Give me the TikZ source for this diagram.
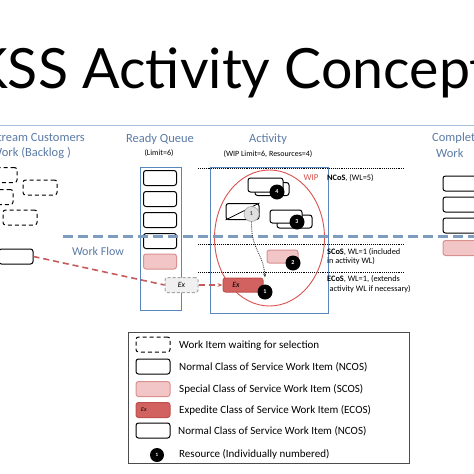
\documentclass[tikz,border=0pt]{standalone}
\usepackage{fontspec}
\setmainfont{Carlito}
\newfontfamily\titlefont{Lato}
\usetikzlibrary{arrows.meta}
\definecolor{hdrblue}{HTML}{5B7BA6}
\definecolor{boxblue}{HTML}{5A86BE}
\definecolor{wfblue}{HTML}{7E9BC0}
\definecolor{topblue}{HTML}{A9C0DC}
\definecolor{pinkfill}{HTML}{F2C6C6}
\definecolor{pinkdraw}{HTML}{D9908F}
\definecolor{redfill}{HTML}{D2625F}
\definecolor{reddraw}{HTML}{C0504D}
\definecolor{flowred}{HTML}{C65A5C}
\definecolor{wipred}{HTML}{D9534F}
\tikzset{
  item/.style={draw=black, line width=1pt, rounded corners=2.5pt, fill=white,
    minimum width=34pt, minimum height=15pt, inner sep=0pt},
  waiting/.style={item, dash pattern=on 4pt off 3pt},
  scos/.style={item, draw=pinkdraw, fill=pinkfill},
  ecos/.style={item, draw=reddraw, fill=redfill, font=\itshape\fontsize{8}{8}\selectfont},
  ghostex/.style={item, draw=gray!70, fill=gray!12, dash pattern=on 3pt off 2pt,
    font=\itshape\fontsize{8}{8}\selectfont},
  res/.style={circle, fill=black, text=white, minimum size=15pt, inner sep=0pt,
    font=\bfseries\fontsize{6}{6}\selectfont},
  ghostres/.style={res, fill=gray!25, draw=gray!70, line width=0.6pt, text=gray!60!black},
  colbox/.style={draw=boxblue, line width=1pt},
  hdr/.style={text=hdrblue, font=\fontsize{12.5}{14}\selectfont, inner sep=0pt},
  sub/.style={font=\fontsize{8}{9}\selectfont, inner sep=0pt},
  note/.style={font=\fontsize{8.3}{9}\selectfont, inner sep=0pt, anchor=west},
  legtext/.style={font=\fontsize{11}{12}\selectfont, inner sep=0pt, anchor=west},
  sep/.style={densely dotted, line width=0.9pt},
  flow/.style={draw=flowred, line width=1.6pt, dash pattern=on 6pt off 4pt}
}
\begin{document}
\begin{tikzpicture}[x=1pt,y=-1pt]
\useasboundingbox (0,0) rectangle (474,474);
\clip (0,0) rectangle (474,474);
\fill[white] (0,0) rectangle (474,474);

% title
\node[anchor=base west, inner sep=0pt, font=\titlefont\fontsize{55.5}{60}\selectfont] (title) at (-29,88) {KSS Activity Concept};

% top rule
\draw[topblue, line width=1pt] (0,125) -- (474,125);

% headers
\node[hdr, anchor=east] (h1a) at (85,138) {Upstream Customers};
\node[hdr, anchor=east] (h1b) at (71,153) {Work (Backlog )};
\node[hdr] (h2) at (160,139) {Ready Queue};
\node[sub] (h2s) at (159,153) {(Limit=6)};
\node[hdr] (h3) at (268,139) {Activity};
\node[sub] (h3s) at (268,154) {(WIP Limit=6, Resources=4)};
\node[hdr, anchor=west] (h4a) at (432,138) {Completed};
\node[hdr, anchor=west] (h4b) at (436,153) {Work};

% separators
\draw[sep] (198,168) -- (405,168);
\draw[sep] (198,244.5) -- (405,244.5);
\draw[sep] (198,272) -- (405,272);

% column boxes
\draw[colbox] (140,167) rectangle (181,310);
\draw[colbox] (210,167) rectangle (328,313);

% WIP ellipse
\draw[wipred, line width=0.9pt] (269.5,238) ellipse [x radius=55, y radius=68];
\node[text=wipred, font=\fontsize{9}{9}\selectfont, inner sep=0pt] (wip) at (311,178) {WIP};

% backlog
\node[waiting] (bl1) at (0,175) {};
\node[waiting] (bl2) at (-4,197) {};
\node[waiting] (bl3) at (40,187.5) {};
\node[waiting] (bl4) at (20,217.5) {};
\node[item] (bl5) at (16,256.5) {};

% ready queue
\node[item, minimum width=33pt] (rq1) at (160,178) {};
\node[item, minimum width=33pt] (rq2) at (160,199) {};
\node[item, minimum width=33pt] (rq3) at (160,220) {};
\node[item, minimum width=33pt] (rq4) at (160,241) {};
\node[scos, minimum width=33pt] (rq5) at (160,261.5) {};

% completed
\node[item] (c1) at (460,183.5) {};
\node[item] (c2) at (460,204.5) {};
\node[item] (c3) at (460,225.5) {};
\node[scos] (c4) at (460,248) {};

% work flow line
\draw[wfblue, line width=2.6pt, dash pattern=on 10pt off 5pt] (63,236.5) -- (474,236.5);
\node[text=hdrblue, font=\fontsize{12}{14}\selectfont, inner sep=0pt] (wf) at (98,251) {Work Flow};

% activity items
\node[item, minimum width=34pt, minimum height=13pt] (a4b) at (272,189) {};
\node[item, minimum width=35pt, minimum height=14pt] (a4f) at (265.5,185) {};
\node[res] (r4) at (277,192) {4};

\node[item, minimum width=33pt, minimum height=16pt] (a1g) at (242.5,211.5) {};
\draw[line width=0.8pt] (a1g.south west) -- (a1g.north east);
\node[ghostres] (g1) at (251.5,214) {1};

\node[item, minimum width=35pt, minimum height=13pt] (a3b) at (294.5,221.5) {};
\node[item, minimum width=32pt, minimum height=13pt] (a3f) at (286,216.5) {};
\node[res] (r3) at (297,222) {3};

\node[scos, minimum width=31pt, minimum height=13pt] (a2) at (282.5,256.5) {};
\node[res] (r2) at (293,263) {2};

\node[ghostex, minimum width=33pt] (gex) at (181.5,285) {Ex};
\node[ecos, minimum width=40pt, minimum height=14pt] (ex) at (243,285) {\hspace*{-14pt}Ex};
\node[res] (r1) at (265,292) {1};

% dotted move arrow
\draw[densely dotted, line width=0.9pt, black!75, -{Stealth[length=4pt]}]
  (g1.south) .. controls (251,250) and (263,252) .. (ex.north east -| r1.north);

% flow arrows
\draw[flow] (bl5.east) -- (gex.west);
\draw[flow, -{Stealth[length=5pt]}] (gex.east) -- (ex.west);

% class notes
\node[note] (n1) at (327,178) {\textbf{NCoS}, (WL=5)};
\node[note] (n2) at (327,252) {\textbf{SCoS}, WL=1 (included};
\node[note] (n2b) at (327,261) {in activity WL)};
\node[note] (n3) at (327,279) {\textbf{ECoS}, WL=1, (extends};
\node[note] (n3b) at (329.5,289) {activity WL if necessary)};

% legend
\draw[draw=gray!60!black, line width=0.8pt, fill=white] (128,332) rectangle (409,463);
\node[waiting] (l1) at (153,344.5) {};
\node[item] (l2) at (153,366.5) {};
\node[scos] (l3) at (153,389) {};
\node[ecos, font=\itshape\fontsize{6}{6}\selectfont] (l4) at (153,410) {\hspace*{-18pt}Ex};
\node[item] (l5) at (153,430.5) {};
\node[res, minimum size=14pt, font=\bfseries\fontsize{5}{5}\selectfont] (l6) at (157,455) {1};
\node[legtext] (t1) at (179,346) {Work Item waiting for selection};
\node[legtext] (t2) at (179,367) {Normal Class of Service Work Item (NCOS)};
\node[legtext] (t3) at (179,389) {Special Class of Service Work Item (SCOS)};
\node[legtext] (t4) at (179,410) {Expedite Class of Service Work Item (ECOS)};
\node[legtext] (t5) at (178,431) {Normal Class of Service Work Item (NCOS)};
\node[legtext] (t6) at (179,454) {Resource (Individually numbered)};
\end{tikzpicture}
\end{document}
